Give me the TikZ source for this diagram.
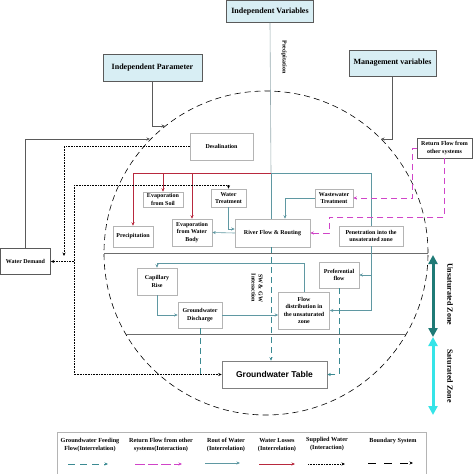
\documentclass[tikz,border=0pt]{standalone}
\usepackage{fontspec}
\setmainfont{Liberation Serif}
\newfontfamily\gwsans{Liberation Sans}
\usetikzlibrary{arrows.meta,positioning,calc}
\definecolor{headfill}{HTML}{D8EEF4}
\definecolor{boxline}{HTML}{B4B4B4}
\definecolor{routec}{HTML}{5F98A2}
\definecolor{precipc}{HTML}{98ACB1}
\definecolor{lossc}{HTML}{B8293E}
\definecolor{retc}{HTML}{D044C8}
\definecolor{feedc}{HTML}{3B8A92}
\definecolor{mgrc}{HTML}{5A5A5A}
\definecolor{uzone}{HTML}{1F7A76}
\definecolor{szone}{HTML}{35E4E8}

\begin{document}
\begin{tikzpicture}[
  x=1pt, y=-1pt,
  >={Stealth[length=3.5pt,width=3pt]},
  headbox/.style={rectangle, draw=mgrc, fill=headfill, line width=0.7pt, align=center, font=\fontsize{8}{9.5}\selectfont\bfseries, inner sep=1pt},
  procbox/.style={rectangle, draw=boxline, fill=white, line width=0.5pt, align=center, font=\fontsize{6}{7.3}\selectfont\bfseries, inner sep=1pt},
  route/.style={draw=routec, line width=0.6pt},
  loss/.style={draw=lossc, line width=0.9pt},
  ret/.style={draw=retc, line width=0.9pt, dash pattern=on 6pt off 4pt},
  feed/.style={draw=feedc, line width=1pt, dash pattern=on 6pt off 4pt},
  supply/.style={draw=black, line width=0.6pt, densely dotted},
  bound/.style={draw=black, line width=0.6pt, dash pattern=on 6pt off 4pt},
  mgr/.style={draw=mgrc, line width=0.8pt},
  chord/.style={draw=gray!85!black, line width=0.8pt},
  lbl/.style={font=\fontsize{6}{7}\selectfont\bfseries, align=center, inner sep=0pt},
  zonelbl/.style={font=\fontsize{8}{9}\selectfont\bfseries, rotate=-90, inner sep=0pt},
  legtxt/.style={font=\fontsize{6.2}{7.6}\selectfont\bfseries, align=center, inner sep=0pt},
  zonearr/.style={line width=3pt, {Triangle[length=9pt,width=9pt]}-{Triangle[length=9pt,width=9pt]}},
]
\useasboundingbox (0,0) rectangle (474,474);

% system boundary and zone limits
\draw[bound] (266,253) circle[radius=162pt];
\draw[chord] (104,253) -- (428,253);
\draw[chord] (126,334) -- (406,334);

% outer boxes
\node[headbox, minimum width=87pt, minimum height=22pt] (indvar) at (270,11.5) {Independent Variables};
\node[headbox, minimum width=99pt, minimum height=27pt] (indpar) at (152.5,67.5) {Independent Parameter};
\node[headbox, minimum width=87pt, minimum height=26pt] (mgmt) at (392.5,63) {Management variables};
\node[procbox, minimum width=63pt, minimum height=27pt] (desal) at (221.5,146.5) {Desalination};
\node[procbox, minimum width=55pt, minimum height=20pt, draw=mgrc] (retflow) at (444.5,148) {Return Flow from\\other systems};
\node[procbox, minimum width=50pt, minimum height=26pt, draw=mgrc] (wdemand) at (25.5,261.5) {Water Demand};

% surface processes
\node[procbox, minimum width=40pt, minimum height=21pt] (precip) at (133,236.5) {Precipitation};
\node[procbox, minimum width=40pt, minimum height=15pt] (evsoil) at (163,199.5) {Evaporation\\from Soil};
\node[procbox, minimum width=40pt, minimum height=27pt] (evwb) at (192,232.5) {Evaporation\\from Water\\Body};
\node[procbox, minimum width=35pt, minimum height=18pt] (wtreat) at (228.5,198) {Water\\Treatment};
\node[procbox, minimum width=75pt, minimum height=28pt] (river) at (272.5,233) {River Flow \& Routing};
\node[procbox, minimum width=38pt, minimum height=18pt] (wwtreat) at (334,198) {Wastewater\\Treatment};
\node[procbox, minimum width=64pt, minimum height=20pt] (penet) at (371,236) {Penetration into the\\unsaterated zone};

% unsaturated zone
\node[procbox, minimum width=40pt, minimum height=27pt] (caprise) at (157,281.5) {Capillary\\Rise};
\node[procbox, minimum width=44pt, minimum height=26pt] (gwdis) at (200,315) {Groundwater\\Discharge};
\node[procbox, minimum width=51pt, minimum height=37pt] (flowdist) at (304,310.5) {Flow\\distribution in\\the unsaturated\\zone};
\node[procbox, minimum width=40pt, minimum height=26pt] (pref) at (339,275) {Preferential\\flow};

% saturated zone
\node[procbox, minimum width=105pt, minimum height=27pt, draw=gray, font=\gwsans\fontsize{8.5}{10}\selectfont\bfseries] (gwtable) at (274.5,374.5) {Groundwater Table};

\coordinate (jn) at (271,173);
\coordinate (cpar) at (165,126);
\coordinate (cmgmt) at (381,139);
\coordinate (cwd) at (150,139);
\coordinate (sd) at (64,256);
\coordinate (sp1) at (74,185);
\coordinate (rf1) at (329,217);

% inputs
\draw[mgr,->] (indpar.south) |- (cpar);
\draw[mgr,->] (mgmt.south) |- (cmgmt);
\draw[mgr,->] (wdemand.north) |- (cwd);
\draw[draw=precipc, line width=0.6pt] (indvar.south) -- (jn);
\node[lbl, rotate=-90] (preclbl) at (284,57) {Precipitation};

% water losses
\draw[loss,->] (jn) -| (precip.north);
\draw[loss,->] (jn) -| (evsoil.north);
\draw[loss,->] (jn) -| (evwb.north);

% routing of water
\draw[route] (jn) -- (jn |- river.north);
\draw[route] (jn) -| (penet.north);
\draw[route,->] (river.west) -- (evwb.east);
\draw[route,->] (wtreat.south) |- ([yshift=4pt]river.west);
\draw[route,->] (wwtreat.west) -| ([xshift=12.5pt]river.north);
\draw[route,->] (flowdist.north) -- ++(0,-28) -| (caprise.north);
\draw[route,->] (caprise.south) |- (gwdis.west);
\draw[route,->] (gwdis.east) -- (gwdis.east -| flowdist.west);
\draw[route,->] (penet.south) |- (flowdist.east);
\draw[route,->] (penet.south |- pref.east) -- (pref.east);

% return flow
\draw[ret,->] (retflow.west) -- ++(-4,0) |- (wwtreat.east);
\draw[ret,->] (retflow.south) |- (rf1) |- (river.east);

% groundwater feeding
\draw[feed,->] (river.south -| jn) -- (gwtable.north -| jn);
\node[lbl, rotate=-90] (swgw) at (257,288) {SW \& GW\\Interaction};
\draw[feed,->] (pref.south) |- (gwtable.east);
\draw[feed] (gwdis.south) -- (gwdis.south |- gwtable.west);

% supplied water
\draw[supply,->] (desal.west) -| (sd);
\draw[supply,->] (sp1 |- wdemand.east) -- (wdemand.east);
\draw[supply,->] (sp1) -| (wtreat.north);
\draw[supply,->] (sp1) |- (gwtable.west);

% zones
\coordinate (uz1) at (433,255);
\coordinate (uz2) at (433,337);
\coordinate (sz2) at (433,415);
\draw[zonearr, draw=uzone, fill=uzone] (uz1) -- (uz2);
\draw[zonearr, draw=szone, fill=szone] (uz2) -- (sz2);
\node[zonelbl] (uzlbl) at (450,294) {Unsaturated Zone};
\node[zonelbl] (szlbl) at (450,376) {Saturated Zone};

% legend
\draw[draw=boxline, line width=0.8pt] (57,474) -- (57,432) -- (426,432) -- (426,474);
\node[legtxt] (lg1) at (90,445) {Groundwater Feeding\\Flow(Interrelation)};
\node[legtxt] (lg2) at (161,445) {Return Flow from other\\systems(Interaction)};
\node[legtxt] (lg3) at (226,445) {Rout of Water\\(Interrelation)};
\node[legtxt] (lg4) at (277,445) {Water Losses\\(Interrelation)};
\node[legtxt] (lg5) at (327,444) {Supplied Water\\(Interaction)};
\node[legtxt] (lg6) at (393,441) {Boundary System};
\draw[feed,->, dash pattern=on 7pt off 5pt] (68,464) -- (108,464);
\draw[ret,->, dash pattern=on 10pt off 3pt] (135,464) -- (182,464);
\draw[route,->] (205,463) -- (240,463);
\draw[loss,->] (259,464) -- (295,464);
\draw[supply,->] (308,464) -- (345,464);
\draw[bound,->, dash pattern=on 8pt off 8pt] (368,463) -- (413,463);

\end{tikzpicture}
\end{document}
